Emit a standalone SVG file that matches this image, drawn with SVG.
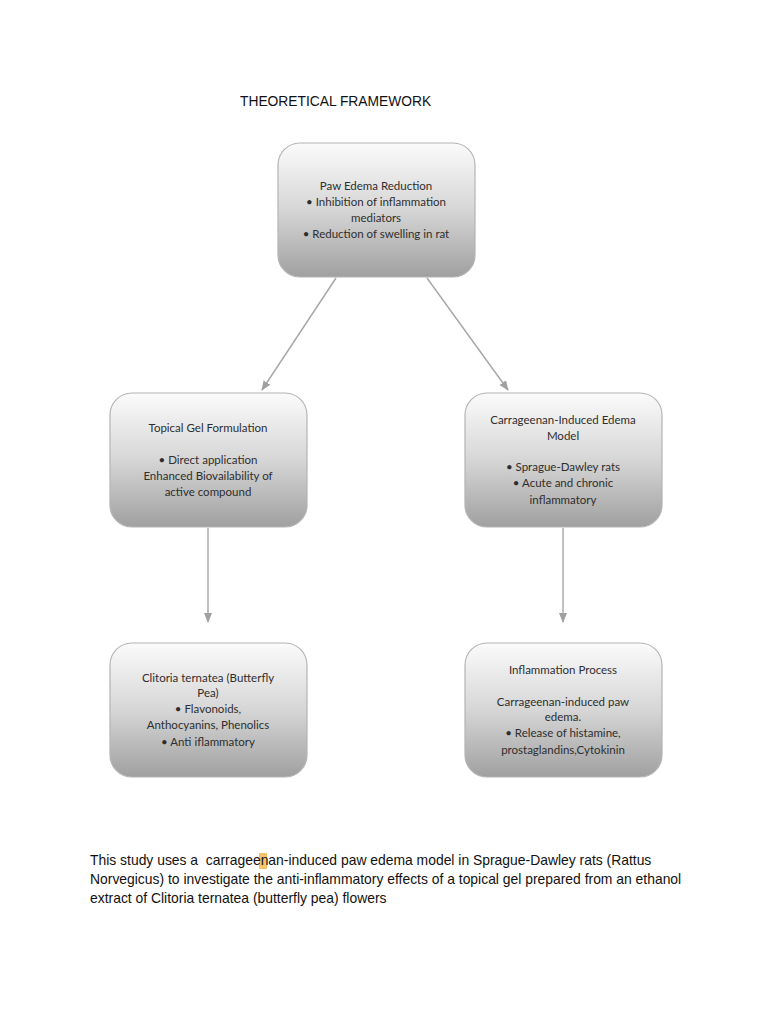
<svg xmlns="http://www.w3.org/2000/svg" width="768" height="1024" viewBox="0 0 768 1024">
<defs>
<linearGradient id="g" x1="0" y1="0" x2="0" y2="1">
<stop offset="0" stop-color="#fbfbfb"/>
<stop offset="0.5" stop-color="#d6d6d6"/>
<stop offset="1" stop-color="#a0a0a0"/>
</linearGradient>
<marker id="ah" markerWidth="10" markerHeight="10" refX="9" refY="5" orient="auto" markerUnits="userSpaceOnUse">
<path d="M0,1 L10,5 L0,9 Z" fill="#a0a0a0"/>
</marker>
<style>
.box{fill:url(#g);stroke:#b4b4b4;stroke-width:1.2}
.t{font-family:Lato,"Open Sans",sans-serif;font-size:11.5px;fill:#2e2e2e;text-anchor:middle}
.c{stroke:#a6a6a6;stroke-width:1.4;fill:none;marker-end:url(#ah)}
.p{font-family:"Liberation Sans",Arial,sans-serif;font-size:13.9px;fill:#111}
</style>
</defs>
<rect width="768" height="1024" fill="#fff"/>
<text x="240" y="106" font-family="Liberation Sans, Arial, sans-serif" font-size="13.8" fill="#111">THEORETICAL FRAMEWORK</text>
<g id="connectors">
<line class="c" x1="336" y1="278" x2="262" y2="390"/>
<line class="c" x1="427" y1="278" x2="508" y2="390"/>
<line class="c" x1="208" y1="528" x2="208" y2="622"/>
<line class="c" x1="563" y1="528" x2="563" y2="622"/>
</g>
<g id="paw">
<rect class="box" x="278" y="143" width="197" height="134" rx="22"/>
<text class="t"><tspan x="376" y="190">Paw Edema Reduction</tspan><tspan x="376" y="206">• Inhibition of inflammation</tspan><tspan x="376" y="222">mediators</tspan><tspan x="376" y="238">• Reduction of swelling in rat</tspan></text>
</g>
<g id="gel">
<rect class="box" x="110" y="393" width="197" height="134" rx="22"/>
<text class="t"><tspan x="208" y="432">Topical Gel Formulation</tspan><tspan x="208" y="464">• Direct application</tspan><tspan x="208" y="480">Enhanced Biovailability of</tspan><tspan x="208" y="496">active compound</tspan></text>
</g>
<g id="model">
<rect class="box" x="465" y="393" width="197" height="134" rx="22"/>
<text class="t"><tspan x="563" y="424">Carrageenan-Induced Edema</tspan><tspan x="563" y="440">Model</tspan><tspan x="563" y="471">• Sprague-Dawley rats</tspan><tspan x="563" y="487">• Acute and chronic</tspan><tspan x="563" y="504">inflammatory</tspan></text>
</g>
<g id="clitoria">
<rect class="box" x="110" y="643" width="197" height="134" rx="22"/>
<text class="t"><tspan x="208" y="682">Clitoria ternatea (Butterfly</tspan><tspan x="208" y="697">Pea)</tspan><tspan x="208" y="713">• Flavonoids,</tspan><tspan x="208" y="729">Anthocyanins, Phenolics</tspan><tspan x="208" y="746">• Anti iflammatory</tspan></text>
</g>
<g id="process">
<rect class="box" x="465" y="643" width="197" height="134" rx="22"/>
<text class="t"><tspan x="563" y="674">Inflammation Process</tspan><tspan x="563" y="706">Carrageenan-induced paw</tspan><tspan x="563" y="721">edema.</tspan><tspan x="563" y="737">• Release of histamine,</tspan><tspan x="563" y="754">prostaglandins,Cytokinin</tspan></text>
</g>
<rect x="259" y="853" width="8" height="16" fill="#f6c46a"/>
<text class="p"><tspan x="90" y="865">This study uses a &#160;carrageenan-induced paw edema model in Sprague-Dawley rats (Rattus</tspan><tspan x="90" y="884">Norvegicus) to investigate the anti-inflammatory effects of a topical gel prepared from an ethanol</tspan><tspan x="90" y="903">extract of Clitoria ternatea (butterfly pea) flowers</tspan></text>
</svg>
